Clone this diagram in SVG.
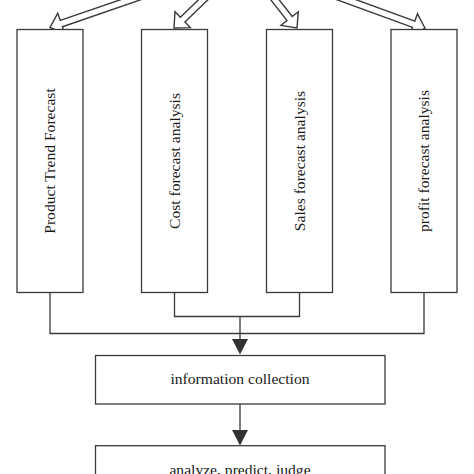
<svg xmlns="http://www.w3.org/2000/svg" width="474" height="474" viewBox="0 0 474 474">
<style>
.box{fill:#fff;stroke:#3a3a3a;stroke-width:1.3}
.lbl{font-family:"Liberation Serif","Times New Roman",serif;font-size:15.6px;fill:#1a1a1a;text-anchor:middle}
.con{fill:none;stroke:#3a3a3a;stroke-width:1.3}
.blk{fill:#fff;stroke:#3a3a3a;stroke-width:1.4;stroke-linejoin:miter}
</style>
<defs>
<path id="blockArrow" d="M0,0 L-12,-11 L-12,-3.3 L-130,-3.3 L-130,3.3 L-12,3.3 L-12,11 Z"/>
</defs>
<rect width="474" height="474" fill="#fff"/>
<g id="top-arrows">
<use href="#blockArrow" class="blk" transform="translate(50,27.5) rotate(161)"/>
<use href="#blockArrow" class="blk" transform="translate(174,28) rotate(136)"/>
<use href="#blockArrow" class="blk" transform="translate(297,28) rotate(52)"/>
<use href="#blockArrow" class="blk" transform="translate(425,28.3) rotate(20)"/>
</g>
<g id="connectors">
<path class="con" d="M50,292.5 V333.5 H424 V292.5"/>
<path class="con" d="M174.5,292.5 V316.5 H299.5 V292.5"/>
<path class="con" d="M240,316.5 V339"/>
<path d="M232,339 L248,339 L240,354.5 Z" fill="#333"/>
<path class="con" d="M240,404 V430"/>
<path d="M232,430 L248,430 L240,445.5 Z" fill="#333"/>
</g>
<g id="node-product">
<rect class="box" x="17" y="29.5" width="66" height="263"/>
<text class="lbl" transform="translate(50,161) rotate(-90)" x="0" y="5">Product Trend Forecast</text>
</g>
<g id="node-cost">
<rect class="box" x="141.5" y="29.5" width="66" height="263"/>
<text class="lbl" transform="translate(174.5,161) rotate(-90)" x="0" y="5">Cost forecast analysis</text>
</g>
<g id="node-sales">
<rect class="box" x="266.5" y="29.5" width="66" height="263"/>
<text class="lbl" transform="translate(299.5,161) rotate(-90)" x="0" y="5">Sales forecast analysis</text>
</g>
<g id="node-profit">
<rect class="box" x="391" y="29.5" width="66" height="263"/>
<text class="lbl" transform="translate(424,161) rotate(-90)" x="0" y="5">profit forecast analysis</text>
</g>
<g id="node-info">
<rect class="box" x="95.5" y="355.5" width="289.5" height="48.5"/>
<text class="lbl" x="240" y="383.5">information collection</text>
</g>
<g id="node-analyze">
<rect class="box" x="95.5" y="445.7" width="289.5" height="60"/>
<text class="lbl" x="240" y="475">analyze, predict, judge</text>
</g>
</svg>
